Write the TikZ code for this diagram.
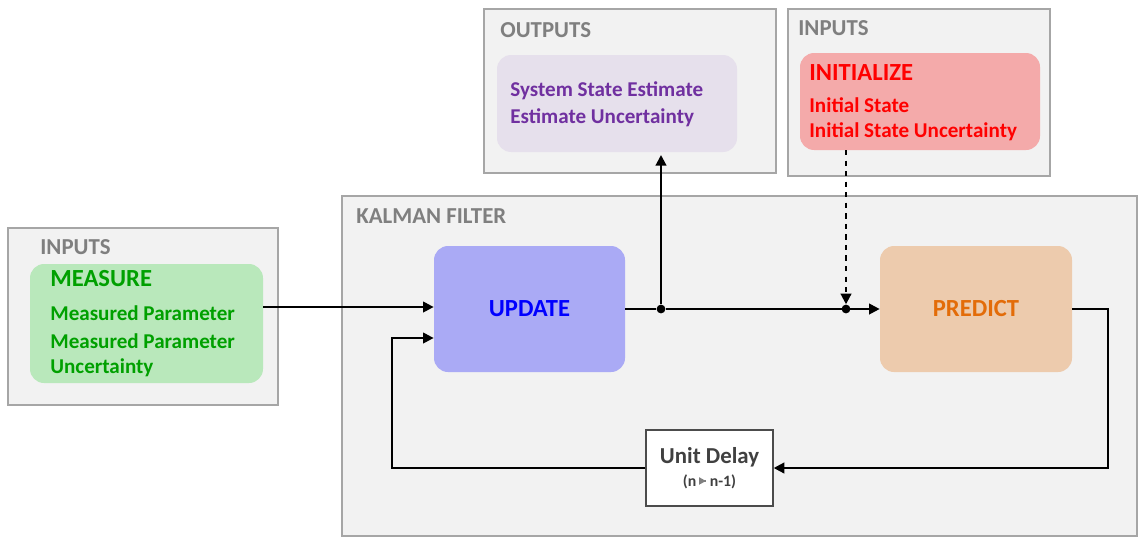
\documentclass[tikz,border=0pt]{standalone}
\usepackage{fontspec}
\setmainfont{Carlito}
\usetikzlibrary{arrows.meta,positioning}
\definecolor{panelgray}{HTML}{F2F2F2}
\definecolor{edgegray}{HTML}{A6A6A6}
\definecolor{labelgray}{HTML}{7F7F7F}
\definecolor{measurefill}{HTML}{B9E8BB}
\definecolor{measuretext}{HTML}{00A000}
\definecolor{updatefill}{HTML}{AAAAF5}
\definecolor{predictfill}{HTML}{EDCBAD}
\definecolor{predicttext}{HTML}{E36C09}
\definecolor{outputfill}{HTML}{E6E0EC}
\definecolor{outputtext}{HTML}{7030A0}
\definecolor{initfill}{HTML}{F4AAAA}
\tikzset{
  panel/.style={draw=edgegray,fill=panelgray,line width=1.2pt},
  block/.style={rounded corners=8pt,draw=none},
  paneltitle/.style={anchor=west,inner sep=0pt,text=labelgray,font=\bfseries\fontsize{13}{15}\selectfont},
  txt/.style={anchor=west,inner sep=0pt,font=\bfseries\fontsize{12}{14}\selectfont},
  wire/.style={line width=1.2pt,-{Triangle[length=6pt,width=6pt]}},
  junction/.style={circle,fill=black,inner sep=0pt,minimum size=5pt}
}
\begin{document}
\begin{tikzpicture}[x=0.02cm,y=-0.02cm]
\useasboundingbox (0,0) rectangle (1145,545);
% panels
\draw[panel] (8,228) rectangle (278,405);
\draw[panel] (342,196) rectangle (1137,536);
\draw[panel] (484,9) rectangle (776,173);
\draw[panel] (788,9) rectangle (1050,176);
\node[paneltitle] (inL) at (40,247) {INPUTS};
\node[paneltitle] (kf) at (356,216) {KALMAN FILTER};
\node[paneltitle] (outT) at (500,30) {OUTPUTS};
\node[paneltitle] (inR) at (798,28) {INPUTS};
% measure
\draw[block,fill=measurefill] (30,264) rectangle (263,383);
\coordinate (measure) at (263,307);
\node[txt,text=measuretext,font=\bfseries\fontsize{14}{16}\selectfont] (mt) at (50,279) {MEASURE};
\node[txt,text=measuretext] (m1) at (50,313) {Measured Parameter};
\node[txt,text=measuretext] (m2) at (50,341) {Measured Parameter};
\node[txt,text=measuretext] (m3) at (50,368) {Uncertainty};
% outputs
\draw[block,fill=outputfill] (497,55) rectangle (737,152);
\coordinate (outputs) at (661,155);
\node[txt,text=outputtext] (o1) at (510,91) {System State Estimate};
\node[txt,text=outputtext] (o2) at (510,118) {Estimate Uncertainty};
% initialize
\draw[block,fill=initfill] (800,53) rectangle (1040,150);
\coordinate (init) at (846,150);
\node[txt,text=red,font=\bfseries\fontsize{14}{16}\selectfont] (it) at (809,73) {INITIALIZE};
\node[txt,text=red] (i1) at (809,105) {Initial State};
\node[txt,text=red] (i2) at (809,132) {Initial State Uncertainty};
% filter blocks
\node[block,fill=updatefill,minimum width=191*0.02cm,minimum height=126*0.02cm,text=blue,font=\bfseries\fontsize{14}{16}\selectfont] (update) at (529.5,309) {UPDATE};
\node[block,fill=predictfill,minimum width=192*0.02cm,minimum height=126*0.02cm,text=predicttext,font=\bfseries\fontsize{14}{16}\selectfont] (predict) at (976,309) {PREDICT};
\node[draw=black!70,fill=white,line width=0.8pt,minimum width=127*0.02cm,minimum height=76*0.02cm,align=center,text=black!75,font=\bfseries\fontsize{13}{15}\selectfont] (delay) at (709.5,468)
  {Unit Delay\\[-2pt]{\fontsize{9}{11}\selectfont(n\,\tikz[baseline=-3pt]\draw[-{Triangle[length=4pt,width=4pt]},line width=1.2pt,gray](0,0)--(0.4,0);\,n-1)}};
% junctions
\node[junction] (j1) at (661,309) {};
\node[junction] (j2) at (846,309) {};
% connectors
\draw[wire] (measure) -- (measure -| update.west);
\draw[line width=1.2pt] (update.east) -- (j1);
\draw[wire] (j1) -- (predict.west);
\draw[wire] (j1) -- (outputs);
\draw[wire,dashed] (init) -- (j2.north);
\draw[wire] (predict.east) -| (1108,400) |- (delay.east);
\draw[wire] (delay.west) -| (392,400) |- ([yshift=-29*0.02cm]update.west);
\end{tikzpicture}
\end{document}
